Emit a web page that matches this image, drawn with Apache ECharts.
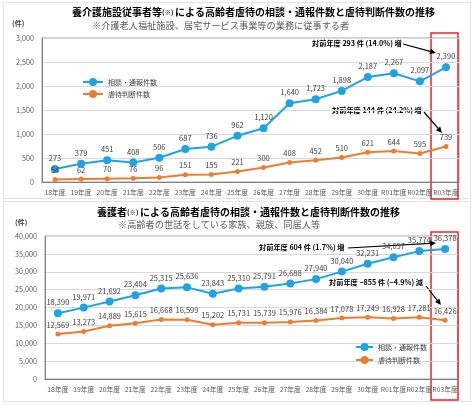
<!DOCTYPE html>
<html>
<head>
<meta charset="utf-8">
<script src="https://cdn.jsdelivr.net/npm/echarts@6/dist/echarts.min.js"></script>
<style>
html, body { margin: 0; padding: 0; background: #fff; }
#chart { width: 474px; height: 405px; }
</style>
</head>
<body>
<div id="chart"></div>
<script>
// 年度
var years = ['18年度','19年度','20年度','21年度','22年度','23年度','24年度','25年度',
             '26年度','27年度','28年度','29年度','30年度','R01年度','R02年度','R03年度'];

// 養介護施設従事者等
var staffReports = [273, 379, 451, 408, 506, 687, 736, 962, 1120, 1640, 1723, 1898, 2187, 2267, 2097, 2390];
var staffJudged  = [54, 62, 70, 76, 96, 151, 155, 221, 300, 408, 452, 510, 621, 644, 595, 739];

// 養護者
var familyReports = [18390, 19971, 21692, 23404, 25315, 25636, 23843, 25310, 25791, 26688, 27940, 30040, 32231, 34057, 35774, 36378];
var familyJudged  = [12569, 13273, 14889, 15615, 16668, 16599, 15202, 15731, 15739, 15976, 16384, 17078, 17249, 16928, 17281, 16426];

var blue = '#1fa3e3';
var orange = '#ed7d31';
var font = '"Noto Sans CJK JP", "Noto Sans", sans-serif';

function comma(v) {
    return String(v).replace(/\B(?=(\d{3})+(?!\d))/g, ',');
}

function xAxis(idx) {
    return {
        type: 'category', gridIndex: idx, data: years,
        axisLine: { lineStyle: { color: '#7f7f7f' } },
        axisTick: { show: false },
        axisLabel: { color: '#595959', fontSize: 6.8, margin: 7, fontFamily: font, interval: 0 }
    };
}
function yAxis(idx, max, step) {
    return {
        type: 'value', gridIndex: idx, min: 0, max: max, interval: step,
        axisLine: { show: true, lineStyle: { color: '#7f7f7f' } },
        axisTick: { show: false },
        splitLine: { lineStyle: { color: '#d9d9d9' } },
        axisLabel: { color: '#595959', fontSize: 7.2, margin: 8, fontFamily: font, formatter: comma }
    };
}
function line(name, idx, data, color, size) {
    return {
        name: name, type: 'line', xAxisIndex: idx, yAxisIndex: idx, data: data,
        symbol: 'circle', symbolSize: size,
        itemStyle: { color: color },
        lineStyle: { color: color, width: 2 },
        label: { show: true, position: 'top', distance: 3, color: '#404040', fontSize: 7.5,
                 fontFamily: font, formatter: function (p) { return comma(p.value); } }
    };
}
function arrow(x1, y1, x2, y2) {
    var a = Math.atan2(y2 - y1, x2 - x1), L = 6, W = 2.8;
    var bx = x2 - L * Math.cos(a), by = y2 - L * Math.sin(a);
    return [
        { type: 'line', shape: { x1: x1, y1: y1, x2: bx, y2: by }, style: { stroke: '#000', lineWidth: 1.2 } },
        { type: 'polygon', shape: { points: [[x2, y2],
            [bx + W * Math.sin(a), by - W * Math.cos(a)],
            [bx - W * Math.sin(a), by + W * Math.cos(a)]] }, style: { fill: '#000' } }
    ];
}
function note(x, y, t) {
    return { type: 'text', left: x, top: y, style: { text: t, font: 'bold 7.2px ' + font, fill: '#000' } };
}

var graphics = [
    { type: 'rect', shape: { x: 3.5, y: 2.5, width: 467, height: 196 }, style: { fill: 'none', stroke: '#e3e3e3', lineWidth: 1 } },
    { type: 'rect', shape: { x: 3.5, y: 201.5, width: 467, height: 200 }, style: { fill: 'none', stroke: '#e3e3e3', lineWidth: 1 } },
    { type: 'text', left: 72, top: 7, style: { text: '養介護施設従事者等', font: 'bold 10px ' + font, fill: '#000' } },
    { type: 'text', left: 162, top: 9.5, style: { text: '(※)', font: 'bold 6.5px ' + font, fill: '#000' } },
    { type: 'text', left: 175, top: 7, style: { text: 'による高齢者虐待の相談・通報件数と虐待判断件数の推移', font: 'bold 10px ' + font, fill: '#000' } },
    { type: 'text', left: 92, top: 21, style: { text: '※介護老人福祉施設、居宅サービス事業等の業務に従事する者', font: '9.2px ' + font, fill: '#595959' } },
    { type: 'text', left: 12, top: 20, style: { text: '(件)', font: 'bold 7px ' + font, fill: '#404040' } },
    { type: 'text', left: 97, top: 207, style: { text: '養護者', font: 'bold 10px ' + font, fill: '#000' } },
    { type: 'text', left: 127, top: 209.5, style: { text: '(※)', font: 'bold 6.5px ' + font, fill: '#000' } },
    { type: 'text', left: 140, top: 207, style: { text: 'による高齢者虐待の相談・通報件数と虐待判断件数の推移', font: 'bold 10px ' + font, fill: '#000' } },
    { type: 'text', left: 118, top: 219.5, style: { text: '※高齢者の世話をしている家族、親族、同居人等', font: '9.2px ' + font, fill: '#595959' } },
    { type: 'text', left: 15, top: 219, style: { text: '(件)', font: 'bold 7px ' + font, fill: '#404040' } },
    note(312, 40, '対前年度 293 件 (14.0%) 増'),
    note(332, 107, '対前年度 144 件 (24.2%) 増'),
    note(259, 244, '対前年度 604 件 (1.7%) 増'),
    note(329, 279, '対前年度 −855 件 (−4.9%) 減'),
    { type: 'rect', shape: { x: 431, y: 33, width: 27, height: 166 }, style: { fill: 'none', stroke: '#e3262b', lineWidth: 1.5 } },
    { type: 'rect', shape: { x: 431, y: 232, width: 27, height: 168 }, style: { fill: 'none', stroke: '#e3262b', lineWidth: 1.5 } }
].concat(arrow(403, 44, 436, 53), arrow(424, 112, 442, 133),
         arrow(348, 248, 436, 243), arrow(426, 286, 441, 305));

var chart = echarts.init(document.getElementById('chart'));
chart.setOption({
    animation: false,
    textStyle: { fontFamily: font },
    grid: [
        { left: 42, right: 15, top: 38, height: 144, show: true, borderColor: '#a6a6a6', borderWidth: 1, backgroundColor: 'transparent' },
        { left: 45, right: 16, top: 236, height: 143, show: true, borderColor: '#a6a6a6', borderWidth: 1, backgroundColor: 'transparent' }
    ],
    legend: [
        { left: 77, top: 73, orient: 'vertical', itemGap: 4, itemWidth: 20, itemHeight: 10,
          data: ['相談・通報件数', '虐待判断件数'], textStyle: { fontSize: 7, color: '#404040', fontFamily: font } },
        { left: 350, top: 338, orient: 'vertical', itemGap: 5, itemWidth: 17, itemHeight: 10,
          data: ['相談・通報件数', '虐待判断件数'], textStyle: { fontSize: 7, color: '#404040', fontFamily: font } }
    ],
    xAxis: [xAxis(0), xAxis(1)],
    yAxis: [yAxis(0, 3000, 500), yAxis(1, 40000, 5000)],
    series: [
        line('相談・通報件数', 0, staffReports, blue, 8),
        line('虐待判断件数', 0, staffJudged, orange, 5),
        line('相談・通報件数', 1, familyReports, blue, 8),
        line('虐待判断件数', 1, familyJudged, orange, 5)
    ],
    graphic: graphics
});
</script>
</body>
</html>
